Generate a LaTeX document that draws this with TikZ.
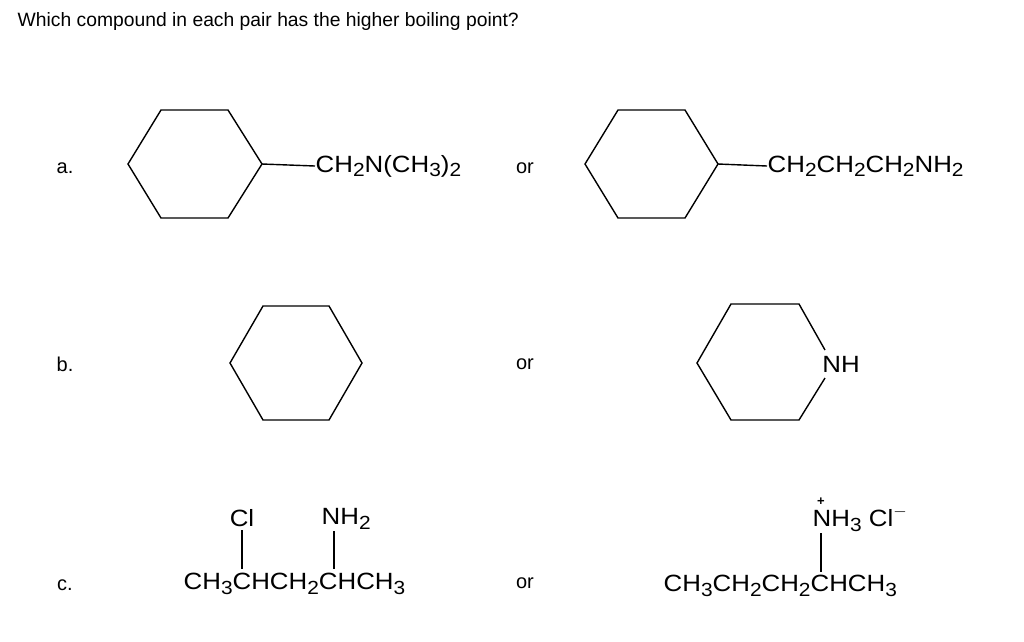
\documentclass[tikz,border=0pt]{standalone}
\usepackage{fontspec}
\setmainfont{Liberation Sans}
\newfontfamily\widefont[FakeStretch=1.1]{Liberation Sans}
\newcommand{\chsub}[1]{\raisebox{-0.35ex}{\fontsize{19}{19}\selectfont #1}}
\begin{document}
\begin{tikzpicture}[x=1pt,y=-1pt,line width=1.4pt,
  txt/.style={inner sep=0pt,font=\widefont\fontsize{23.5}{24}\selectfont},
  lbl/.style={inner sep=0pt,font=\fontsize{20}{22}\selectfont}]
\useasboundingbox (0,0) rectangle (1024,641);
\node[inner sep=0pt,anchor=west,font=\fontsize{19.3}{22}\selectfont] (title) at (17,22) {Which compound in each pair has the higher boiling point?};
\node[lbl] (la) at (65,168) {a.};
\node[lbl] (lb) at (65,364) {b.};
\node[lbl] (lc) at (65,585) {c.};
\node[lbl] (o1) at (525,168) {or};
\node[lbl] (o2) at (525,364) {or};
\node[lbl] (o3) at (525,583) {or};
% a left
\draw (128,164) -- (161,110) -- (228,110) -- (262,164) coordinate (ar1) -- (228,218) -- (161,218) -- cycle;
\node[txt,anchor=west] (t1) at (315,166) {CH\chsub{2}N(CH\chsub{3})\chsub{2}};
\draw (ar1) -- (t1.west);
% a right
\draw (585,164) -- (618,110) -- (685,110) -- (718,164) coordinate (ar2) -- (685,218) -- (618,218) -- cycle;
\node[txt,anchor=west] (t2) at (767,166) {CH\chsub{2}CH\chsub{2}CH\chsub{2}NH\chsub{2}};
\draw (ar2) -- (t2.west);
% b left
\draw (230,363) -- (263,306) -- (329,306) -- (362,363) -- (329,420) -- (263,420) -- cycle;
% b right
\node[txt] (nh) at (841,364) {NH};
\draw (825,350) -- (799,304) -- (731,304) -- (697,363) -- (731,420) -- (799,420) -- (825,378);
% c left
\node[txt,anchor=west] (c1) at (183,584) {CH\chsub{3}CHCH\chsub{2}CHCH\chsub{3}};
\node[txt] (cl) at (242,518) {Cl};
\node[txt,anchor=west] (nh2) at (321,519) {NH\chsub{2}};
\draw[line width=1.2pt] (242,530) -- (242,569);
\draw[line width=1.2pt] (334,531) -- (334,569);
% c right
\node[txt,anchor=west] (c2) at (663,586) {CH\chsub{3}CH\chsub{2}CH\chsub{2}CHCH\chsub{3}};
\node[txt,anchor=west] (nh3) at (812,519) {NH\chsub{3} Cl\raisebox{0.8ex}{\fontsize{17}{17}\selectfont $-$}};
\node[font=\bfseries\fontsize{13}{13}\selectfont,inner sep=0pt] (plus) at (821,502) {+};
\draw[line width=1.2pt] (821,533) -- (821,572);
\end{tikzpicture}
\end{document}
